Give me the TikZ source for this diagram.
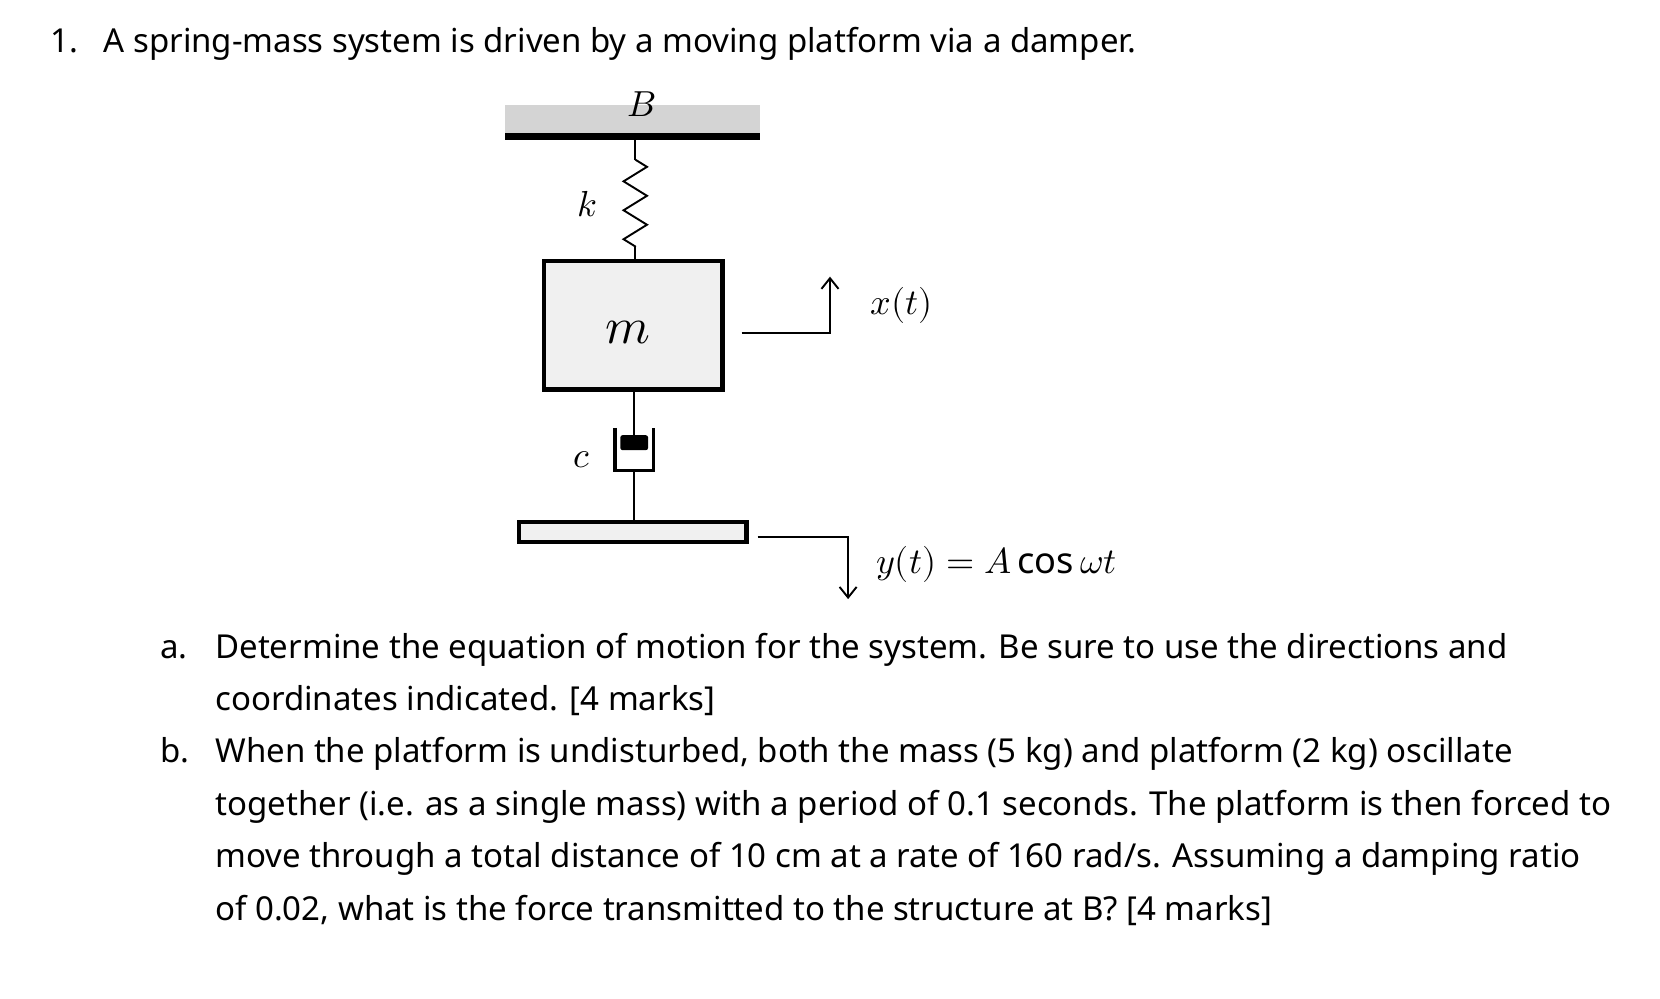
\documentclass[tikz,border=0pt]{standalone}
\usepackage{fontspec}
\setmainfont{Noto Sans}
\usepackage{unicode-math}
\setmathfont{Latin Modern Math}
\usetikzlibrary{decorations.pathmorphing,arrows.meta}
\begin{document}
\begin{tikzpicture}[x=0.5pt,y=-0.5pt,
  txt/.style={anchor=base west,inner sep=0pt,font=\fontsize{15.5}{18}\selectfont},
  mlab/.style={inner sep=0pt,font=\fontsize{17}{20}\selectfont},
  boxs/.style={draw,line width=2pt,fill=black!6},
  thin/.style={line width=0.9pt}]
\useasboundingbox (0,0) rectangle (1560,938);
% ceiling
\fill[black!17] (475,99) rectangle (714,127);
\fill[black] (475,125) rectangle (714,132);
\node[mlab] (B) at (603,98) {$B$};
% mass
\node[boxs,minimum width=84pt,minimum height=60.5pt,inner sep=0pt] (m) at (595,305.5) {};
\node[inner sep=0pt,font=\fontsize{24}{28}\selectfont] (ml) at (590,312) {$m$};
% spring
\coordinate (s0) at (597,131);
\coordinate (s1) at (597,150);
\coordinate (s2) at (597,232);
\draw[thin] (s0) -- (s1);
\draw[thin,decoration={zigzag,segment length=13.6pt,amplitude=5.5pt},decorate] (s1) -- (s2);
\draw[thin] (s2) -- (m.north -| s2);
\node[mlab] (k) at (552,192) {$k$};
% damper
\coordinate (rodtop) at (597,366);
\node[fill=black,minimum width=13pt,minimum height=7pt,inner sep=0pt,rounded corners=1pt] (pist) at (596,416) {};
\draw[thin] (m.south -| pist) -- (pist.north);
\draw[line width=1.6pt] (578,402) -- (578,442) -- (614,442) -- (614,402);
\coordinate (cupb) at (596,442);
\node[mlab] (c) at (547,432) {$c$};
% platform
\node[boxs,minimum width=107pt,minimum height=9.5pt,inner sep=0pt] (plat) at (594.5,500) {};
\draw[thin] (cupb) -- (plat.north -| cupb);
% arrows
\coordinate (x0) at (697,313);
\coordinate (x1) at (780,313);
\coordinate (x2) at (780,260);
\draw[thin,-{Straight Barb[length=5pt,width=8pt]}] (x0) -- (x1) -- (x2);
\node[mlab,anchor=west] (xl) at (818,287) {$x(t)$};
\coordinate (y0) at (712,505);
\coordinate (y1) at (797,505);
\coordinate (y2) at (797,563);
\draw[thin,-{Straight Barb[length=5pt,width=8pt]}] (y0) -- (y1) -- (y2);
\node[mlab,anchor=west] (yl) at (823,530) {$y(t)=A\cos\omega t$};
% text
\node[txt] (t1) at (47,49) {1.};
\node[txt] (t1b) at (97,49) {A spring-mass system is driven by a moving platform via a damper.};
\node[txt] (ta) at (150,619) {a.};
\node[txt] (ta1) at (202,619) {Determine the equation of motion for the system. Be sure to use the directions and};
\node[txt] (ta2) at (202,668) {coordinates indicated. \textbf{[4 marks]}};
\node[txt] (tb) at (150,717) {b.};
\node[txt] (tb1) at (202,717) {When the platform is undisturbed, both the mass (5 kg) and platform (2 kg) oscillate};
\node[txt] (tb2) at (202,766) {together (i.e. as a single mass) with a period of 0.1 seconds. The platform is then forced to};
\node[txt] (tb3) at (202,815) {move through a total distance of 10 cm at a rate of 160 rad/s. Assuming a damping ratio};
\node[txt] (tb4) at (202,865) {of 0.02, what is the force transmitted to the structure at B? \textbf{[4 marks]}};
\end{tikzpicture}
\end{document}
